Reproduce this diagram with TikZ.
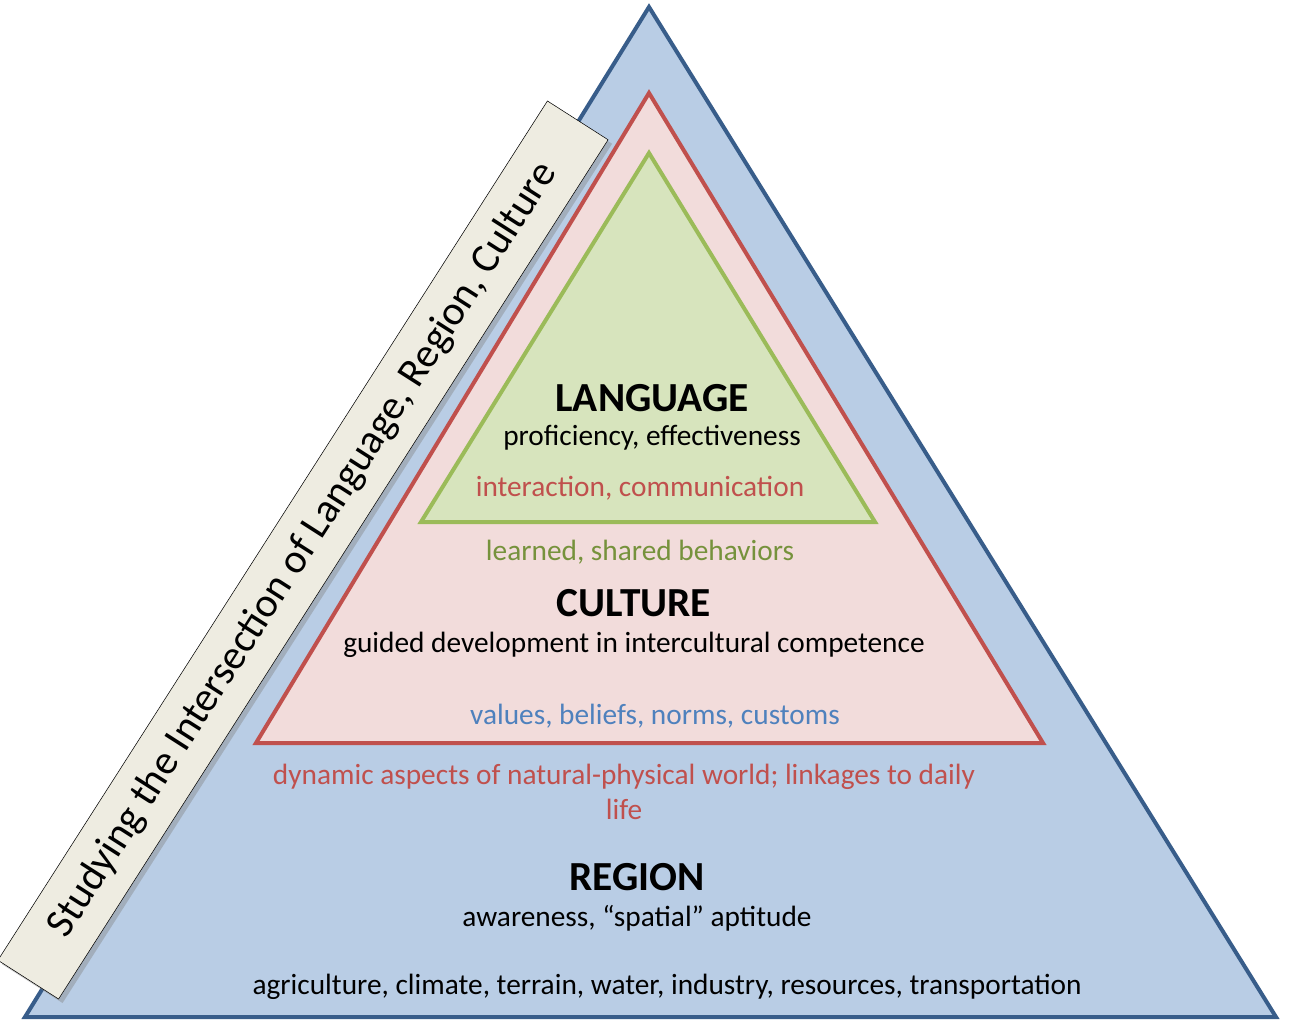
\documentclass[tikz,border=0pt]{standalone}
\usepackage{fontspec}
\setmainfont{Carlito}
\usetikzlibrary{shadows}
\definecolor{bfill}{RGB}{185,205,229}
\definecolor{bline}{RGB}{56,93,138}
\definecolor{rfill}{RGB}{242,220,219}
\definecolor{rline}{RGB}{192,80,77}
\definecolor{gfill}{RGB}{215,228,189}
\definecolor{gline}{RGB}{155,187,89}
\definecolor{gtext}{RGB}{118,146,60}
\definecolor{btext}{RGB}{79,129,189}
\definecolor{banner}{RGB}{238,236,225}
\tikzset{tri/.style={line width=3pt,line join=miter},
 title/.style={font=\fontsize{31}{34}\selectfont\bfseries},
 body/.style={font=\fontsize{22}{26}\selectfont,align=center}}
\begin{document}
\begin{tikzpicture}[x=0.75pt,y=-0.75pt]
\useasboundingbox (0,0) rectangle (1290,1034);
\draw[tri,fill=bfill,draw=bline] (649,7) -- (25,1017) -- (1276,1017) -- cycle;
\draw[tri,fill=rfill,draw=rline] (649,93) -- (256,743) -- (1043,743) -- cycle;
\draw[tri,fill=gfill,draw=gline] (649,153) -- (421,522) -- (875,522) -- cycle;
\node[draw=black,fill=banner,drop shadow={shadow xshift=3pt,shadow yshift=-3pt,opacity=.4},minimum width=765pt,minimum height=54pt,rotate=57.4,font=\fontsize{31}{34}\selectfont] (ban) at (303,550) {Studying the Intersection of Language, Region, Culture};
\node[title] (lang) at (652,398) {LANGUAGE};
\node[body] (lang1) at (652,438) {proficiency, effectiveness};
\node[body,text=rline] (lang2) at (640,488) {interaction, communication};
\node[body,text=gtext] (cul0) at (640,552) {learned, shared behaviors};
\node[title] (cul) at (634,603) {CULTURE};
\node[body] (cul1) at (634,645) {guided development in intercultural competence};
\node[body,text=btext] (cul2) at (655,716) {values, beliefs, norms, customs};
\node[body,text=rline] (reg0) at (624,792) {dynamic aspects of natural-physical world; linkages to daily\\life};
\node[title] (reg) at (637,877) {REGION};
\node[body] (reg1) at (637,918) {awareness, “spatial” aptitude};
\node[body] (reg2) at (667,987) {agriculture, climate, terrain, water, industry, resources, transportation};
\end{tikzpicture}
\end{document}
